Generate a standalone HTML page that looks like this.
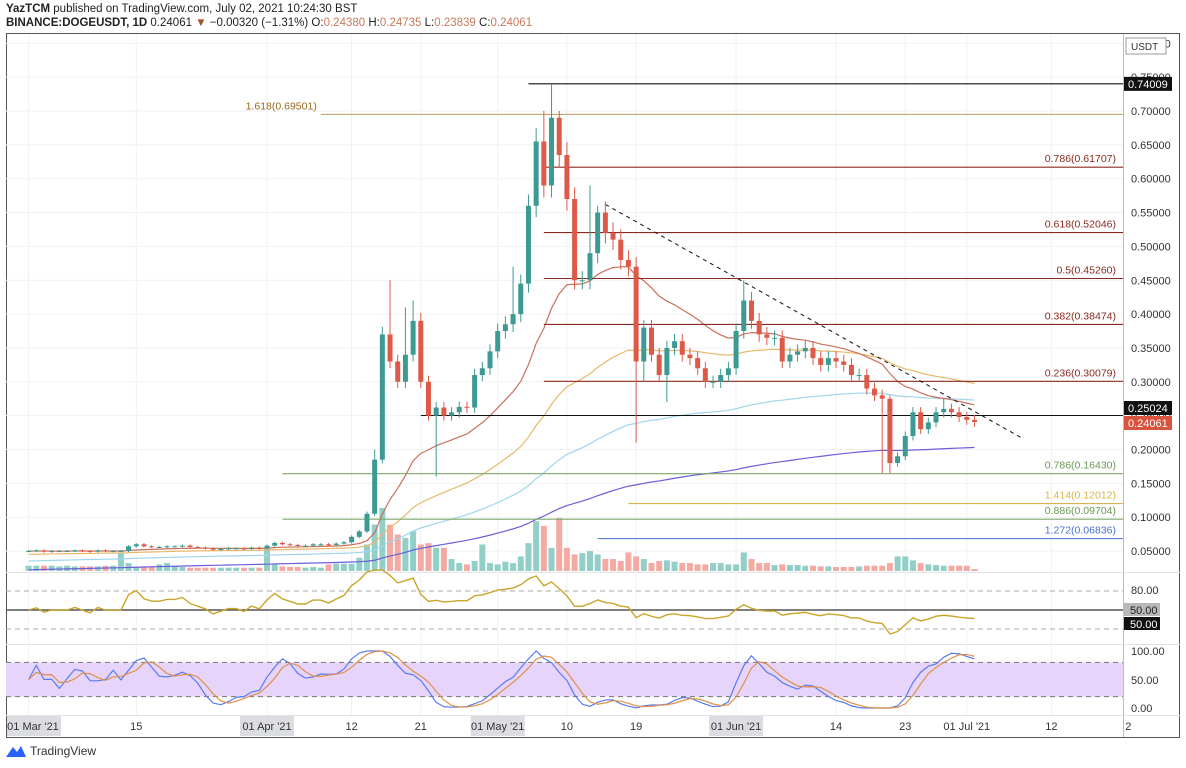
<!DOCTYPE html>
<html><head><meta charset="utf-8">
<style>
body{margin:0;background:#fff;font-family:"Liberation Sans",sans-serif;}
#wrap{position:relative;width:1186px;height:768px;overflow:hidden;}
.hdr{position:absolute;left:6px;font-size:11.5px;color:#222;white-space:nowrap;}
</style></head>
<body>
<div id="wrap">
<div class="hdr" style="top:3px"><b>YazTCM</b> published on TradingView.com, July 02, 2021 10:24:30 BST</div>
<div class="hdr" style="top:17px"><b>BINANCE:DOGEUSDT, 1D</b> 0.24061 <span style="color:#a0522d">▼</span> −0.00320 (−1.31%) O:<span style="color:#c87a5a">0.24380</span> H:<span style="color:#c87a5a">0.24735</span> L:<span style="color:#c87a5a">0.23839</span> C:<span style="color:#c87a5a">0.24061</span></div>
<svg id="chart" width="1186" height="768" style="position:absolute;left:0;top:0"></svg>
<div style="position:absolute;left:5px;top:744px;font-size:12px;color:#333;display:flex;align-items:center">
<svg width="22" height="14" viewBox="0 0 22 14"><path d="M1 13 L8 3 L12 8 L16 2 L21 13 Z" fill="#2962ff"/></svg><span style="margin-left:3px">TradingView</span></div>
</div>
<script>
// ---- data (Mar 1 2021 .. Jul 2 2021, daily) ----
const closes=[0.050,0.051,0.049,0.050,0.050,0.050,0.051,0.050,0.049,0.051,0.050,0.050,0.050,0.057,0.060,0.057,0.056,0.056,0.057,0.057,0.058,0.056,0.055,0.054,0.052,0.053,0.054,0.054,0.053,0.055,0.054,
0.058,0.062,0.060,0.059,0.058,0.058,0.060,0.060,0.059,0.061,0.063,0.071,0.079,0.105,0.185,0.370,0.330,0.300,0.340,0.390,0.300,0.250,0.262,0.250,0.255,0.263,0.262,0.310,0.320,0.345,
0.375,0.385,0.400,0.445,0.560,0.655,0.590,0.690,0.635,0.570,0.450,0.450,0.490,0.550,0.520,0.510,0.480,0.470,0.330,0.380,0.340,0.310,0.350,0.360,0.340,0.335,0.320,0.300,0.300,0.310,0.320,
0.375,0.420,0.390,0.370,0.365,0.365,0.330,0.340,0.345,0.350,0.335,0.325,0.335,0.330,0.325,0.310,0.310,0.290,0.280,0.275,0.180,0.190,0.220,0.255,0.230,0.240,0.255,0.260,0.255,0.248,
0.2438,0.2406];
const openFirst=0.050;
const highOverrides={45:0.20,47:0.45,49:0.41,50:0.42,63:0.47,67:0.70,68:0.74,69:0.70,73:0.59,74:0.56,93:0.45,112:0.28,119:0.275};
const lowOverrides={53:0.16,79:0.21,80:0.30,83:0.27,111:0.165,112:0.165};
const volumes=[8,8,8,8,7,8,7,7,7,7,8,8,27,12,6,6,7,10,12,7,6,5,5,5,5,5,5,5,5,5,5,
35,10,7,6,6,5,6,5,10,11,11,11,20,40,70,95,70,55,50,60,40,42,35,35,18,12,10,15,40,12,
10,14,12,22,42,75,68,35,80,35,25,27,30,25,18,18,15,28,22,18,12,15,16,14,12,12,10,10,12,12,10,
10,28,18,12,12,9,10,9,9,8,8,7,7,6,6,6,7,8,8,8,12,22,22,16,12,10,9,8,8,8,8,3];
const priceTicks=[0.80,0.75,0.70,0.65,0.60,0.55,0.50,0.45,0.40,0.35,0.30,0.25,0.20,0.15,0.10,0.05];
const timeLabels=["01 Mar '21","15","01 Apr '21","12","21","01 May '21","10","19","01 Jun '21","14","23","01 Jul '21","12","2"];
const timeIdx=[0,14,31,42,51,61,70,79,92,105,114,122,133,143];
const fibPrices=[0.74009,0.69501,0.61707,0.52046,0.45260,0.38474,0.30079,0.25024,0.16430,0.12012,0.09704,0.06836];
const fibLabels=["","1.618(0.69501)","0.786(0.61707)","0.618(0.52046)","0.5(0.45260)","0.382(0.38474)","0.236(0.30079)","","0.786(0.16430)","1.414(0.12012)","0.886(0.09704)","1.272(0.06836)"];
const fibStart=[65,38,67,67,67,67,67,51,33,78,33,74];
const fibColors=["#111","#b89c5a","#8b2a20","#8b2a20","#8b2a20","#8b2a20","#8b2a20","#111","#7fa86a","#d9b44a","#7fa86a","#4a6fd0"];
const trendStart=[75,0.562], trendEnd=[129,0.218];

// ---- scales ----
const X0=267,DX=7.69,L=6,R=1123;
const x=i=>X0+(i-31)*DX;
const y=p=>111+(0.70-p)*677;
const yR=v=>610-(v-50)*0.95;
const yS=v=>708-v*0.57;
const svg=document.getElementById('chart');
const NS='http://www.w3.org/2000/svg';
function mk(tag,attrs,parent){const e=document.createElementNS(NS,tag);for(const k in attrs)e.setAttribute(k,attrs[k]);(parent||svg).appendChild(e);return e;}

const defs=mk('defs',{});
const cp=mk('clipPath',{id:'pc'},defs);mk('rect',{x:L,y:34,width:R-L,height:538},cp);
const frame=mk('rect',{x:6.5,y:33.5,width:1173,height:704,fill:'none',stroke:'#555'});


mk('line',{x1:R+.5,y1:34,x2:R+.5,y2:737,stroke:'#bbb'});
[572,644,715].forEach(v=>mk('line',{x1:L,y1:v+.5,x2:1180,y2:v+.5,stroke:'#e2e2e2'}));
timeIdx.forEach(i=>{if(x(i)<R)mk('line',{x1:x(i),y1:34,x2:x(i),y2:715,stroke:'#f0f1f4'});});
priceTicks.forEach(p=>{if(y(p)>36)mk('line',{x1:L,y1:y(p),x2:R,y2:y(p),stroke:'#f0f1f4'});});

const g=mk('g',{'clip-path':'url(#pc)'});
const vmax=Math.max(...volumes);
closes.forEach((c,i)=>{const o=i?closes[i-1]:openFirst;const h=volumes[i]/vmax*63;
 const b=mk('rect',{x:x(i)-3,y:571-h,width:6,height:h,fill:c>=o?'#93cfc9':'#f2aaa3'},g);
 
 });
function ema(n,seed){let e=seed,a=2/(n+1);return closes.map(c=>e=e+a*(c-e));}
const mas=[[200,0.022,'#6a5fd8'],[100,0.035,'#9fd6ec'],[50,0.045,'#e8b868'],[20,0.05,'#c9705a']];
mas.forEach(([n,s,col])=>{const v=ema(n,s);const pl=mk('polyline',{points:v.map((p,i)=>x(i)+','+y(p)).join(' '),fill:'none',stroke:col,'stroke-width':1.2},g);
 
 });
fibPrices.forEach((p,k)=>{const ln=mk('line',{x1:x(fibStart[k]),y1:y(p),x2:R,y2:y(p),stroke:fibColors[k],'stroke-width':1.1},g);
 
 
 if(fibLabels[k]){const lx=k==1?x(fibStart[k])-4:1116;const t=mk('text',{x:lx,y:y(p)-5,'text-anchor':'end','font-size':10.5,fill:fibColors[k]==='#7fa86a'?'#6a9a55':(fibColors[k]==='#b89c5a'?'#9a6a20':fibColors[k])});t.textContent=fibLabels[k];
 
 }});
const tl=mk('line',{x1:x(trendStart[0]),y1:y(trendStart[1]),x2:x(trendEnd[0]),y2:y(trendEnd[1]),stroke:'#222','stroke-dasharray':'4 4','stroke-width':1.1},g);


closes.forEach((c,i)=>{const o=i?closes[i-1]:openFirst;const up=c>=o;const col=up?'#3d9a93':'#dd5a48';
 const hi=highOverrides[i]!==undefined?highOverrides[i]:Math.max(o,c)*1.03;
 const lo=lowOverrides[i]!==undefined?lowOverrides[i]:Math.min(o,c)*0.97;
 const w=mk('line',{x1:x(i),y1:y(hi),x2:x(i),y2:y(lo),stroke:col},g);
 
 
 const t=Math.min(y(o),y(c)),h=Math.max(1,Math.abs(y(o)-y(c)));
 const b=mk('rect',{x:x(i)-2.5,y:t,width:5,height:h,fill:col},g);
 
 });

// RSI (Wilder, seeded neutral)
const rsi=[];let ag=0.0008,al=0.0008;
closes.forEach((c,i)=>{if(!i){rsi.push(50);return;}const d=c-closes[i-1];const gg=Math.max(d,0),ll=Math.max(-d,0);
 ag=(ag*13+gg)/14;al=(al*13+ll)/14;
 rsi.push(100-100/(1+ag/al));});
[70,30].forEach(v=>mk('line',{x1:L,y1:yR(v),x2:R,y2:yR(v),stroke:'#aaa','stroke-dasharray':'5 4'}));
mk('line',{x1:L,y1:yR(50),x2:R,y2:yR(50),stroke:'#555','stroke-width':1.5});
const rl=mk('polyline',{points:rsi.map((v,i)=>x(i)+','+yR(Math.max(12,Math.min(92,v)))).join(' '),fill:'none',stroke:'#c9a62a','stroke-width':1.4});


const st=rsi.map((v,i)=>{const w=rsi.slice(Math.max(0,i-13),i+1);const mn=Math.min(...w),mx=Math.max(...w);return mx>mn?(v-mn)/(mx-mn)*100:50;});
const sma=(a,n)=>a.map((v,i)=>{const w=a.slice(Math.max(0,i-n+1),i+1);return w.reduce((s,q)=>s+q,0)/w.length;});
const K=sma(st,3),D=sma(K,3);
mk('rect',{x:L,y:yS(80),width:R-L,height:yS(20)-yS(80),fill:'#e6d4fb'});
[80,20].forEach(v=>mk('line',{x1:L,y1:yS(v),x2:R,y2:yS(v),stroke:'#777','stroke-dasharray':'5 4'}));
const kl=mk('polyline',{points:K.map((v,i)=>x(i)+','+yS(v)).join(' '),fill:'none',stroke:'#5b7cf0','stroke-width':1.2});


const dl=mk('polyline',{points:D.map((v,i)=>x(i)+','+yS(v)).join(' '),fill:'none',stroke:'#e0904a','stroke-width':1.2});



priceTicks.forEach(p=>{const yy=y(p);if(yy<38)return;const t=mk('text',{x:1131,y:yy+4,'font-size':11,fill:'#333'});t.textContent=p.toFixed(5);
 
 });
mk('rect',{x:1126,y:38,width:40,height:16,fill:'#fff',stroke:'#999'});
const ut=mk('text',{x:1131,y:50,'font-size':10,fill:'#333'});ut.textContent='USDT';


function tag(p,txt,bg,yy){const Y=yy!==undefined?yy:y(p);mk('rect',{x:1124,y:Y-7,width:48,height:14,fill:bg});const t=mk('text',{x:1128,y:Y+4,'font-size':11,fill:'#fff'});t.textContent=txt;
 
 }
tag(0.74009,'0.74009','#111');
tag(0.25024,'0.25024','#111',408);
tag(0.24061,'0.24061','#d8543e',423);
[['80.00',590],['100.00',651],['50.00',680],['0.00',708]].forEach(([s,yy])=>{const t=mk('text',{x:1131,y:yy+4,'font-size':11,fill:'#333'});t.textContent=s;
 
 });
mk('rect',{x:1124,y:603,width:36,height:13,fill:'#b8b8b8'});
let t1=mk('text',{x:1130,y:614,'font-size':11,fill:'#222'});t1.textContent='50.00';
mk('rect',{x:1124,y:617,width:36,height:13,fill:'#111'});
let t2=mk('text',{x:1130,y:628,'font-size':11,fill:'#fff'});t2.textContent='50.00';
timeLabels.forEach((s,k)=>{const xx=x(timeIdx[k]);const isMonth=s.indexOf("'")>0&&k<9;
 if(isMonth){mk('rect',{x:Math.max(7,xx-27),y:716,width:54,height:20,fill:'#dcdde2'});}
 const t=mk('text',{x:Math.max(xx,33),y:730,'font-size':11,fill:'#333','text-anchor':'middle'});t.textContent=s;
 
 });
</script>
</body></html>
